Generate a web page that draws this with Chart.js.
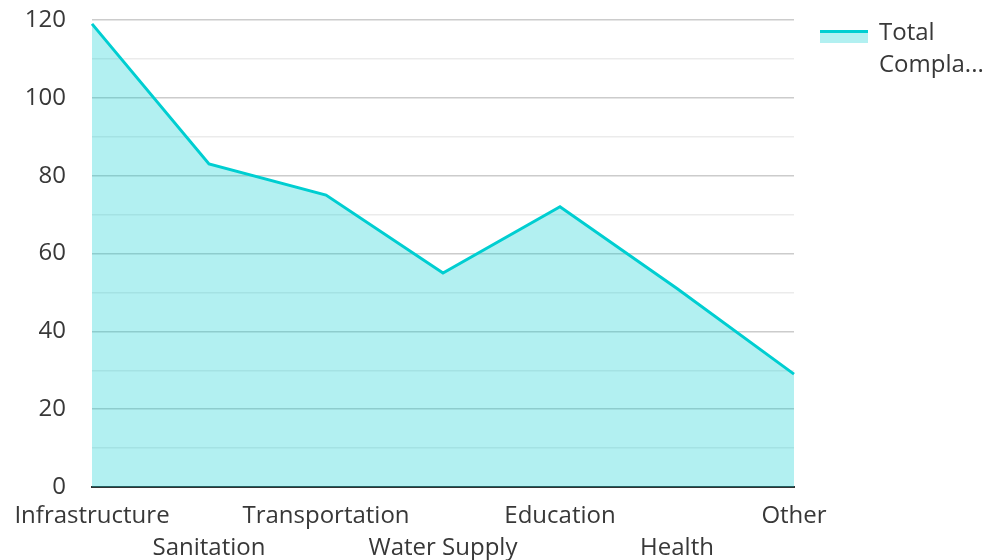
<!DOCTYPE html>
<html>
<head>
<meta charset="utf-8">
<script src="https://cdn.jsdelivr.net/npm/chart.js@4"></script>
<style>
  html, body { margin: 0; padding: 0; background: #fff; }
  #wrap { width: 991px; height: 560px; position: relative; }
</style>
</head>
<body>
<div id="wrap"><canvas id="c" width="991" height="560"></canvas></div>
<script>
const categories = ["Infrastructure", "Sanitation", "Transportation", "Water Supply", "Education", "Health", "Other"];
const totalComplaints = [119, 83, 75, 55, 72, 51, 29];
const seriesName = "Total Complaints";
const yTicks = { min: 0, max: 120, step: 10, labelStep: 20 };

const FONT = "'Open Sans', 'Noto Sans', sans-serif";
const LINE = "#00CED1";
const FILL = "rgba(0,206,209,0.3)";
const TEXT = "#383838";

// staggered labels: odd indices pushed to second row
const staggered = categories.map((c, i) => i % 2 === 0 ? [c] : ["", c]);

function wrapText(ctx, text, maxW, maxLines) {
  const words = text.split(" ");
  const lines = [];
  let cur = "";
  for (const w of words) {
    const t = cur ? cur + " " + w : w;
    if (ctx.measureText(t).width <= maxW || !cur) cur = t; else { lines.push(cur); cur = w; }
  }
  if (cur) lines.push(cur);
  const out = lines.slice(0, maxLines);
  out.forEach((l, i) => {
    if (ctx.measureText(l).width > maxW || (i === maxLines - 1 && lines.length > maxLines)) {
      let s = l;
      while (s.length > 1 && ctx.measureText(s + "...").width > maxW) s = s.slice(0, -1);
      out[i] = s + "...";
    }
  });
  return out;
}

const legendPlugin = {
  id: "sideLegend",
  afterDraw(chart) {
    const ctx = chart.ctx;
    const ds = chart.data.datasets[0];
    ctx.save();
    const x0 = 820, y0 = 30, w = 48;
    ctx.fillStyle = ds.backgroundColor;
    ctx.fillRect(x0, y0 + 1, w, 12);
    ctx.strokeStyle = ds.borderColor;
    ctx.lineWidth = 3;
    ctx.beginPath(); ctx.moveTo(x0, y0 + 1.5); ctx.lineTo(x0 + w, y0 + 1.5); ctx.stroke();
    ctx.font = "24px " + FONT;
    ctx.fillStyle = TEXT;
    ctx.textBaseline = "middle";
    ctx.textAlign = "left";
    const lines = wrapText(ctx, ds.label, 108, 2);
    lines.forEach((l, i) => ctx.fillText(l, 879, 33 + i * 32));
    ctx.restore();
  }
};

new Chart(document.getElementById("c"), {
  type: "line",
  data: {
    labels: staggered,
    datasets: [{
      label: seriesName,
      data: totalComplaints,
      borderColor: LINE,
      backgroundColor: FILL,
      borderWidth: 3,
      fill: "origin",
      tension: 0,
      pointRadius: 0,
      pointHoverRadius: 0
    }]
  },
  options: {
    responsive: false,
    animation: false,
    layout: { padding: { top: 20, right: 197, left: 0, bottom: 0 } },
    plugins: { legend: { display: false }, tooltip: { enabled: false } },
    scales: {
      x: {
        offset: false,
        grid: { display: false, drawTicks: false },
        border: { display: true, color: "#333333", width: 2 },
        ticks: {
          autoSkip: false, maxRotation: 0, minRotation: 0, padding: 14,
          color: TEXT, font: { family: FONT, size: 24, lineHeight: 1.3 }
        },
        afterFit(scale) { scale.height = 73; scale.paddingLeft = 0; scale.paddingRight = 0; }
      },
      y: {
        min: yTicks.min, max: yTicks.max,
        grid: {
          drawTicks: false,
          color: (c) => (c.tick && c.tick.value % yTicks.labelStep === 0) ? "#cccccc" : "#ebebeb",
          lineWidth: 1.5
        },
        border: { display: false },
        ticks: {
          stepSize: yTicks.step, padding: 26, color: TEXT,
          font: { family: FONT, size: 24 },
          callback: (v) => v % yTicks.labelStep === 0 ? v : ""
        },
        afterFit(scale) { scale.width = 92; scale.paddingTop = 0; scale.paddingBottom = 0; }
      }
    }
  },
  plugins: [legendPlugin]
});
</script>
</body>
</html>
